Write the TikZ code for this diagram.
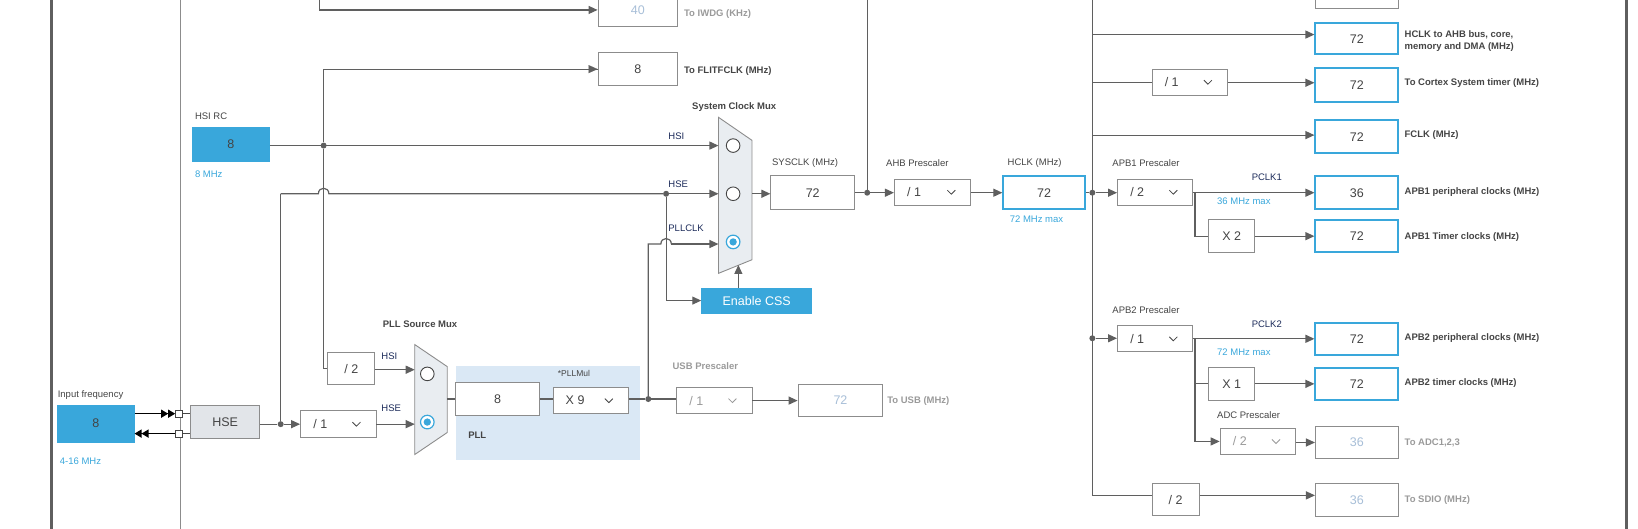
\documentclass[tikz,border=0pt]{standalone}
\usepackage{fontspec}
\setmainfont{Liberation Sans}
\usetikzlibrary{arrows.meta,fit,calc}
\definecolor{lc}{HTML}{5F5F5F}
\definecolor{bc}{HTML}{8C8C8C}
\definecolor{cb}{HTML}{39A7DB}
\definecolor{tc}{HTML}{444444}
\definecolor{nv}{HTML}{1C2B5A}
\definecolor{dv}{HTML}{A8BFD8}
\definecolor{dg}{HTML}{9A9A9A}
\definecolor{muxf}{HTML}{E9EDF1}
\definecolor{pllf}{HTML}{DAE8F5}
\definecolor{hsef}{HTML}{E2E5E9}
\newcommand\fs[1]{\fontsize{#1}{#1}\selectfont}
\tikzset{
 ln/.style={draw=lc, line width=1.2pt},
 ar/.style={ln, -{Triangle[length=9pt,width=8pt]}},
 box/.style={draw=bc, line width=0.9pt, fill=white, inner sep=0pt, font=\fs{12.5}, text=tc},
 bbox/.style={box, draw=cb, line width=2pt},
 dbox/.style={box, text=dv},
 lab/.style={font=\fs{9.5}, text=tc, anchor=west, inner sep=0pt},
 blab/.style={font=\bfseries\fs{9.5}, text=tc, anchor=west, inner sep=0pt},
 glab/.style={blab, text=dg},
 nlab/.style={font=\fs{9.5}, text=nv, anchor=west, inner sep=0pt},
 clab/.style={font=\fs{9.5}, text=cb, anchor=west, inner sep=0pt},
 dot/.style={circle, fill=lc, inner sep=0pt, minimum size=6pt},
}
% dropdown: name, x1,y1,x2,y2, text, text colour
\newcommand\dd[7]{%
 \node[box, fit={(#2,#3)(#4,#5)}] (#1) {};
 \node[anchor=west, font=\fs{12.5}, text=#7, inner sep=0pt] at ([xshift=13pt]#1.west) {#6};
 \draw[draw=#7, line width=0.8pt] ([xshift=-24pt,yshift=2pt]#1.east) -- ++(4pt,-4pt) -- ++(4pt,4pt);}
\newcommand\bx[7]{\node[#6, fit={(#2,#3)(#4,#5)}] (#1) {};
 \node[#6, draw=none, fill=none, anchor=center] at (#1.center) {#7};}
\begin{document}
\begin{tikzpicture}[x=1.0473pt,y=-1.0473pt]
\useasboundingbox (0,0) rectangle (1564,505);
% frame lines
\draw[draw=lc, line width=3pt] (49,0) -- (49,505);
\draw[draw=lc, line width=3pt] (1553,0) -- (1553,505);
\draw[draw=bc, line width=1pt] (172,0) -- (172,505);

% top partial boxes
\bx{iwdg}{571}{-6}{647}{25}{dbox}{40}
\node[glab] at (653,13) {To IWDG (KHz)};
\bx{topr}{1256}{-6}{1335}{8}{box}{}
\coordinate (iwt) at (305,0);
\draw[ar] (iwt) |- (iwdg.west);

% HSI RC
\node[lab] at (186,111) {HSI RC};
\bx{hsi}{184}{122}{257}{154}{box,fill=cb,draw=cb}{8}
\node[clab] at (186,166) {8 MHz};
\bx{flit}{571}{50}{647}{82}{box}{8}
\node[blab] at (653,68) {To FLITFCLK (MHz)};

% System clock mux
\draw[draw=bc, fill=muxf, line width=0.9pt] (686,112) -- (718,134) -- (718,248) -- (686,261) -- cycle;
\node[blab, anchor=center] at (701,102) {System Clock Mux};
\draw[draw=tc, line width=0.9pt, fill=white] (700,139) circle (6.5);
\draw[draw=tc, line width=0.9pt, fill=white] (700,185) circle (6.5);
\draw[draw=cb, line width=1.2pt, fill=white] (700,231) circle (6.5);
\fill[cb] (700,231) circle (3.5);
\coordinate (smHSI) at (686,139);
\coordinate (smHSE) at (686,185);
\coordinate (smPLL) at (686,233);
\coordinate (smOut) at (718,185);
\coordinate (smBot) at (705,253);

\node[dot] (dHSI) at (309,139) {};
\draw[ar] (hsi.east |- dHSI) -- (smHSI);
\node[nlab] at (638,130) {HSI};
\draw[ln] (dHSI) |- (flit.west);
\draw[-{Triangle[length=9pt,width=8pt]}, draw=lc, fill=lc, line width=0.1pt] ($(flit.west)+(-14,0)$) -- (flit.west);

% HSE line with hop
\node[dot] (dHSE2) at (636,185) {};
\coordinate (hseL) at (268,185);
\draw[ln] (hseL) -- (304,185) .. controls (304,178) and (314,178) .. (314,185) -- (dHSE2);
\draw[ar] (dHSE2) -- (smHSE);
\node[nlab] at (638,176) {HSE};
\bx{css}{670}{275}{775}{299}{box,fill=cb,draw=cb,text=white}{Enable CSS}
\draw[ar] (dHSE2) |- (css.west);
\draw[ar] (css.north -| smBot) -- (smBot);

% Input / HSE
\node[lab] at (55,377) {Input frequency};
\bx{inp}{55}{387}{128}{422}{box,fill=cb,draw=cb}{8}
\node[clab] at (57,440) {4-16 MHz};
\node[draw=tc, fill=white, line width=0.8pt, minimum size=7pt, inner sep=0pt] (sq1) at (171,395) {};
\node[draw=tc, fill=white, line width=0.8pt, minimum size=7pt, inner sep=0pt] (sq2) at (171,414) {};
\draw[black, line width=1.2pt, -{Triangle[length=7pt,width=8pt]Triangle[length=7pt,width=8pt]}] (inp.east |- sq1) -- (sq1.west);
\draw[black, line width=1.2pt, -{Triangle[length=7pt,width=8pt]Triangle[length=7pt,width=8pt]}] (sq2.west) -- (inp.east |- sq2);
\bx{hse}{182}{387}{248}{419}{box,fill=hsef}{HSE}
\draw[draw=tc, line width=0.8pt] (sq1.east) -- (sq1.east -| hse.west);
\draw[draw=tc, line width=0.8pt] (sq2.east) -- (sq2.east -| hse.west);
\node[dot] (dHSE) at (268,405) {};
\draw[ln] (hse.east |- dHSE) -- (dHSE);
\draw[ln] (dHSE) -- (hseL);

% PLL source mux
\draw[draw=bc, fill=muxf, line width=0.9pt] (396,329) -- (427,350) -- (427,413) -- (396,434) -- cycle;
\node[blab, anchor=center] at (401,310) {PLL Source Mux};
\draw[draw=tc, line width=0.9pt, fill=white] (408,357) circle (6.5);
\draw[draw=cb, line width=1.2pt, fill=white] (408,403) circle (6.5);
\fill[cb] (408,403) circle (3.5);
\coordinate (pmHSI) at (396,353);
\coordinate (pmHSE) at (396,405);
\bx{div2}{313}{337}{358}{367}{box}{/ 2}
\draw[ln] (dHSI) |- (div2.west);
\draw[ar] (div2.east |- pmHSI) -- (pmHSI);
\node[nlab] at (364,340) {HSI};
\dd{pdiv}{287}{392}{359}{418}{/ 1}{tc}
\draw[ar] (dHSE) -- (dHSE -| pdiv.west);
\draw[ar] (pdiv.east |- pmHSE) -- (pmHSE);
\node[nlab] at (364,390) {HSE};

% PLL area
\fill[pllf] (435,349) rectangle (611,439);
\bx{plln}{435}{365}{515}{397}{box}{8}
\node[font=\fs{8.5}, text=tc, anchor=center] at (548,357) {*PLLMul};
\dd{mul}{528}{370}{600}{395}{X 9}{tc}
\node[blab] at (447,416) {PLL};
\draw[ln] (427,381) -- (plln.west);
\draw[ln] (plln.east) -- (plln.east -| mul.west);
\node[dot] (dPLL) at (619,381) {};
\draw[ln] (mul.east |- dPLL) -- (dPLL);
\draw[ln] (dPLL) -- (619,233) -- (631,233) .. controls (631,226) and (641,226) .. (641,233);
\draw[ar] (641,233) -- (smPLL);
\node[nlab] at (638,218) {PLLCLK};

% USB
\node[glab] at (642,350) {USB Prescaler};
\dd{usb}{646}{370}{718}{395}{/ 1}{dg}
\draw[ln] (dPLL) -- (dPLL -| usb.west);
\bx{usbo}{762}{367}{843}{398}{dbox}{72}
\draw[ar] (usb.east |- usbo.west) -- (usbo.west);
\node[glab] at (847,383) {To USB (MHz)};

% SYSCLK / AHB / HCLK
\bx{sys}{736}{168}{816}{200}{box}{72}
\node[lab] at (737,156) {SYSCLK (MHz)};
\draw[ar] (smOut) -- (smOut -| sys.west);
\node[dot] (dSYS) at (828,184) {};
\draw[ln] (sys.east |- dSYS) -- (dSYS);
\draw[ln] (828,0) -- (dSYS);
\dd{ahb}{854}{171}{927}{196}{/ 1}{tc}
\node[lab] at (846,156) {AHB Prescaler};
\draw[ar] (dSYS) -- (dSYS -| ahb.west);
\bx{hclk}{958}{168}{1036}{200}{bbox}{72}
\node[lab] at (962,156) {HCLK (MHz)};
\node[clab] at (964,209) {72 MHz max};
\draw[ar] (ahb.east |- hclk.west) -- (hclk.west);
\node[dot] (dH) at (1043,184) {};
\draw[ln] (hclk.east |- dH) -- (dH);
\draw[ln] (1043,0) -- (1043,473);

% HCLK outputs
\bx{o1}{1256}{22}{1335}{52}{bbox}{72}
\node[blab, align=left] at (1341,39) {HCLK to AHB bus, core,\\[3pt]memory and DMA (MHz)};
\coordinate (b1) at (1043,33);
\draw[ar] (b1) -- (b1 -| o1.west);
\dd{cdiv}{1100}{66}{1172}{91}{/ 1}{tc}
\bx{o2}{1256}{65}{1335}{97}{bbox}{72}
\node[blab] at (1341,79) {To Cortex System timer (MHz)};
\coordinate (b2) at (1043,79);
\draw[ln] (b2) -- (b2 -| cdiv.west);
\draw[ar] (cdiv.east |- b2) -- (b2 -| o2.west);
\bx{o3}{1256}{115}{1335}{146}{bbox}{72}
\node[blab] at (1341,129) {FCLK (MHz)};
\coordinate (b3) at (1043,129);
\draw[ar] (b3) -- (b3 -| o3.west);

% APB1
\node[lab] at (1062,156) {APB1 Prescaler};
\dd{apb1}{1067}{171}{1139}{196}{/ 2}{tc}
\draw[ar] (dH) -- (dH -| apb1.west);
\bx{o4}{1256}{168}{1335}{200}{bbox}{36}
\node[blab] at (1341,183) {APB1 peripheral clocks (MHz)};
\draw[ar] (apb1.east |- o4.west) -- (o4.west);
\node[nlab] at (1195,169) {PCLK1};
\node[clab] at (1162,192) {36 MHz max};
\bx{x2}{1154}{210}{1198}{241}{box}{X 2}
\bx{o5}{1256}{210}{1335}{241}{bbox}{72}
\node[blab] at (1341,226) {APB1 Timer clocks (MHz)};
\draw[ln] (1141,184) |- (x2.west);
\draw[ar] (x2.east) -- (o5.west);

% APB2
\node[dot] (dA2) at (1043,323) {};
\node[lab] at (1062,296) {APB2 Prescaler};
\dd{apb2}{1067}{311}{1139}{336}{/ 1}{tc}
\draw[ar] (dA2) -- (dA2 -| apb2.west);
\bx{o6}{1256}{308}{1335}{339}{bbox}{72}
\node[blab] at (1341,323) {APB2 peripheral clocks (MHz)};
\draw[ar] (apb2.east |- o6.west) -- (o6.west);
\node[nlab] at (1195,310) {PCLK2};
\node[clab] at (1162,336) {72 MHz max};
\bx{x1}{1154}{351}{1198}{382}{box}{X 1}
\bx{o7}{1256}{351}{1335}{382}{bbox}{72}
\node[blab] at (1341,366) {APB2 timer clocks (MHz)};
\draw[ln] (1141,324) |- (x1.west);
\draw[ar] (x1.east) -- (o7.west);
\node[lab] at (1162,396) {ADC Prescaler};
\dd{adc}{1165}{409}{1237}{434}{/ 2}{dg}
\draw[ar] (1141,366) |- (adc.west);
\bx{o8}{1256}{407}{1335}{438}{dbox}{36}
\node[glab] at (1341,423) {To ADC1,2,3};
\draw[ar] (adc.east |- o8.west) -- (o8.west);

% SDIO
\bx{sd}{1100}{462}{1145}{492}{box}{/ 2}
\bx{o9}{1256}{462}{1335}{493}{dbox}{36}
\node[glab] at (1341,477) {To SDIO (MHz)};
\coordinate (b9) at (1043,473);
\draw[ln] (b9) -- (b9 -| sd.west);
\draw[ar] (sd.east |- b9) -- (b9 -| o9.west);
\end{tikzpicture}
\end{document}
